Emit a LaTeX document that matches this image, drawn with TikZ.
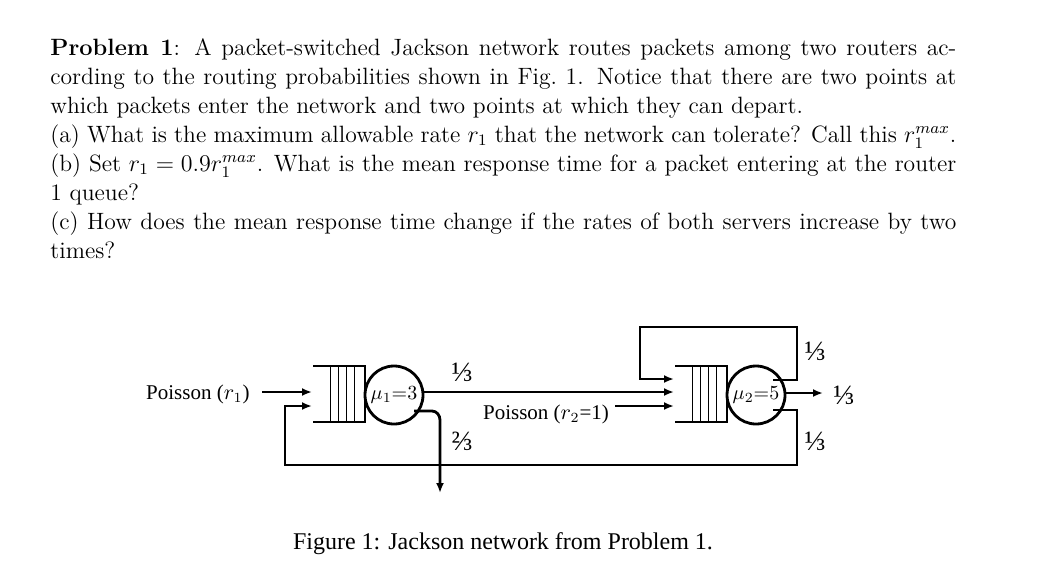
\documentclass[tikz,border=0pt]{standalone}
\usepackage{fontspec}
\newfontfamily\figfont{Liberation Serif}
\usetikzlibrary{arrows.meta}
\begin{document}
\begin{tikzpicture}[x=0.5pt,y=-0.5pt,
    flow/.style={line width=1.4pt,-{Latex[length=5pt,width=4pt]}},
    line/.style={line width=1.4pt},
    lbl/.style={font=\figfont\fontsize{10.5}{12}\selectfont,inner sep=1pt},
    frac/.style={font=\figfont\fontsize{14}{14}\selectfont,inner sep=1pt}]
  \useasboundingbox (0,0) rectangle (1047,568);
  % problem text
  \node[anchor=north west,text width=453pt,align=justify,inner sep=0pt,
        font=\fontsize{11.8}{14.5}\selectfont] (txt) at (50,38)
  {\textbf{Problem 1}: A packet-switched Jackson network routes packets among two routers ac-\linebreak cording to the routing probabilities shown in Fig.~1. Notice that there are two points at\linebreak which packets enter the network and two points at which they can depart.\\
  (a) What is the maximum allowable rate $r_1$ that the network can tolerate? Call this~$r_1^{max}$.\\
  (b) Set $r_1=0.9r_1^{max}$. What is the mean response time for a packet entering at the router\linebreak 1 queue?\\
  (c) How does the mean response time change if the rates of both servers increase by two\linebreak times?};

  % queue 1
  \draw[line] (313,366) -- (365,366) -- (365,422) -- (313,422);
  \foreach \x in {330,338,346,354} \draw (\x,366) -- (\x,422);
  \node[circle,draw,line width=1.4pt,minimum size=29pt,inner sep=0pt] (s1) at (394,395) {$\mu_1{=}3$};
  % queue 2
  \draw[line] (675,366) -- (727,366) -- (727,422) -- (675,422);
  \foreach \x in {692,700,708,716} \draw (\x,366) -- (\x,422);
  \node[circle,draw,line width=1.4pt,minimum size=29pt,inner sep=0pt] (s2) at (756,395) {$\mu_2{=}5$};

  % inputs
  \node[lbl,anchor=east] (in1) at (252,394) {Poisson ($r_1$)};
  \coordinate (q1a) at (312,392);
  \coordinate (q1b) at (312,406);
  \draw[flow] (262,392) -- (q1a);
  \node[lbl] (in2) at (546,414) {Poisson ($r_2${=}1)};
  \coordinate (q2a) at (674,392);
  \coordinate (q2b) at (674,406);
  \coordinate (q2c) at (674,379);
  \draw[flow] (615,406) -- (q2b);

  % 1 -> 2
  \draw[flow] (s1.east |- q2a) -- (q2a);
  \node[frac] (p12) at (462,372) {⅓};
  % 1 -> out
  \coordinate (out1) at (440,493);
  \draw[flow] (414,411) -- (432,411) to[out=0,in=90] (440,420) -- (out1);
  \node[frac] (p1o) at (462,441) {⅔};

  % 2 -> 2
  \draw[flow] (773,380) -- (797,380) -- (797,327) -- (640,327) -- (640,379) -- (q2c);
  \node[frac] (p22) at (815,351) {⅓};
  % 2 -> out
  \coordinate (out2) at (823,393);
  \draw[flow] (s2.east |- out2) -- (out2);
  \node[frac,anchor=west] (p2o) at (831,395) {⅓};
  % 2 -> 1
  \draw[flow] (773,410) -- (797,410) -- (797,465) -- (285,465) -- (285,406) -- (q1b);
  \node[frac] (p21) at (815,441) {⅓};

  % caption
  \node[font=\figfont\fontsize{12}{14}\selectfont] (cap) at (503,544) {Figure 1: Jackson network from Problem 1.};
\end{tikzpicture}
\end{document}
